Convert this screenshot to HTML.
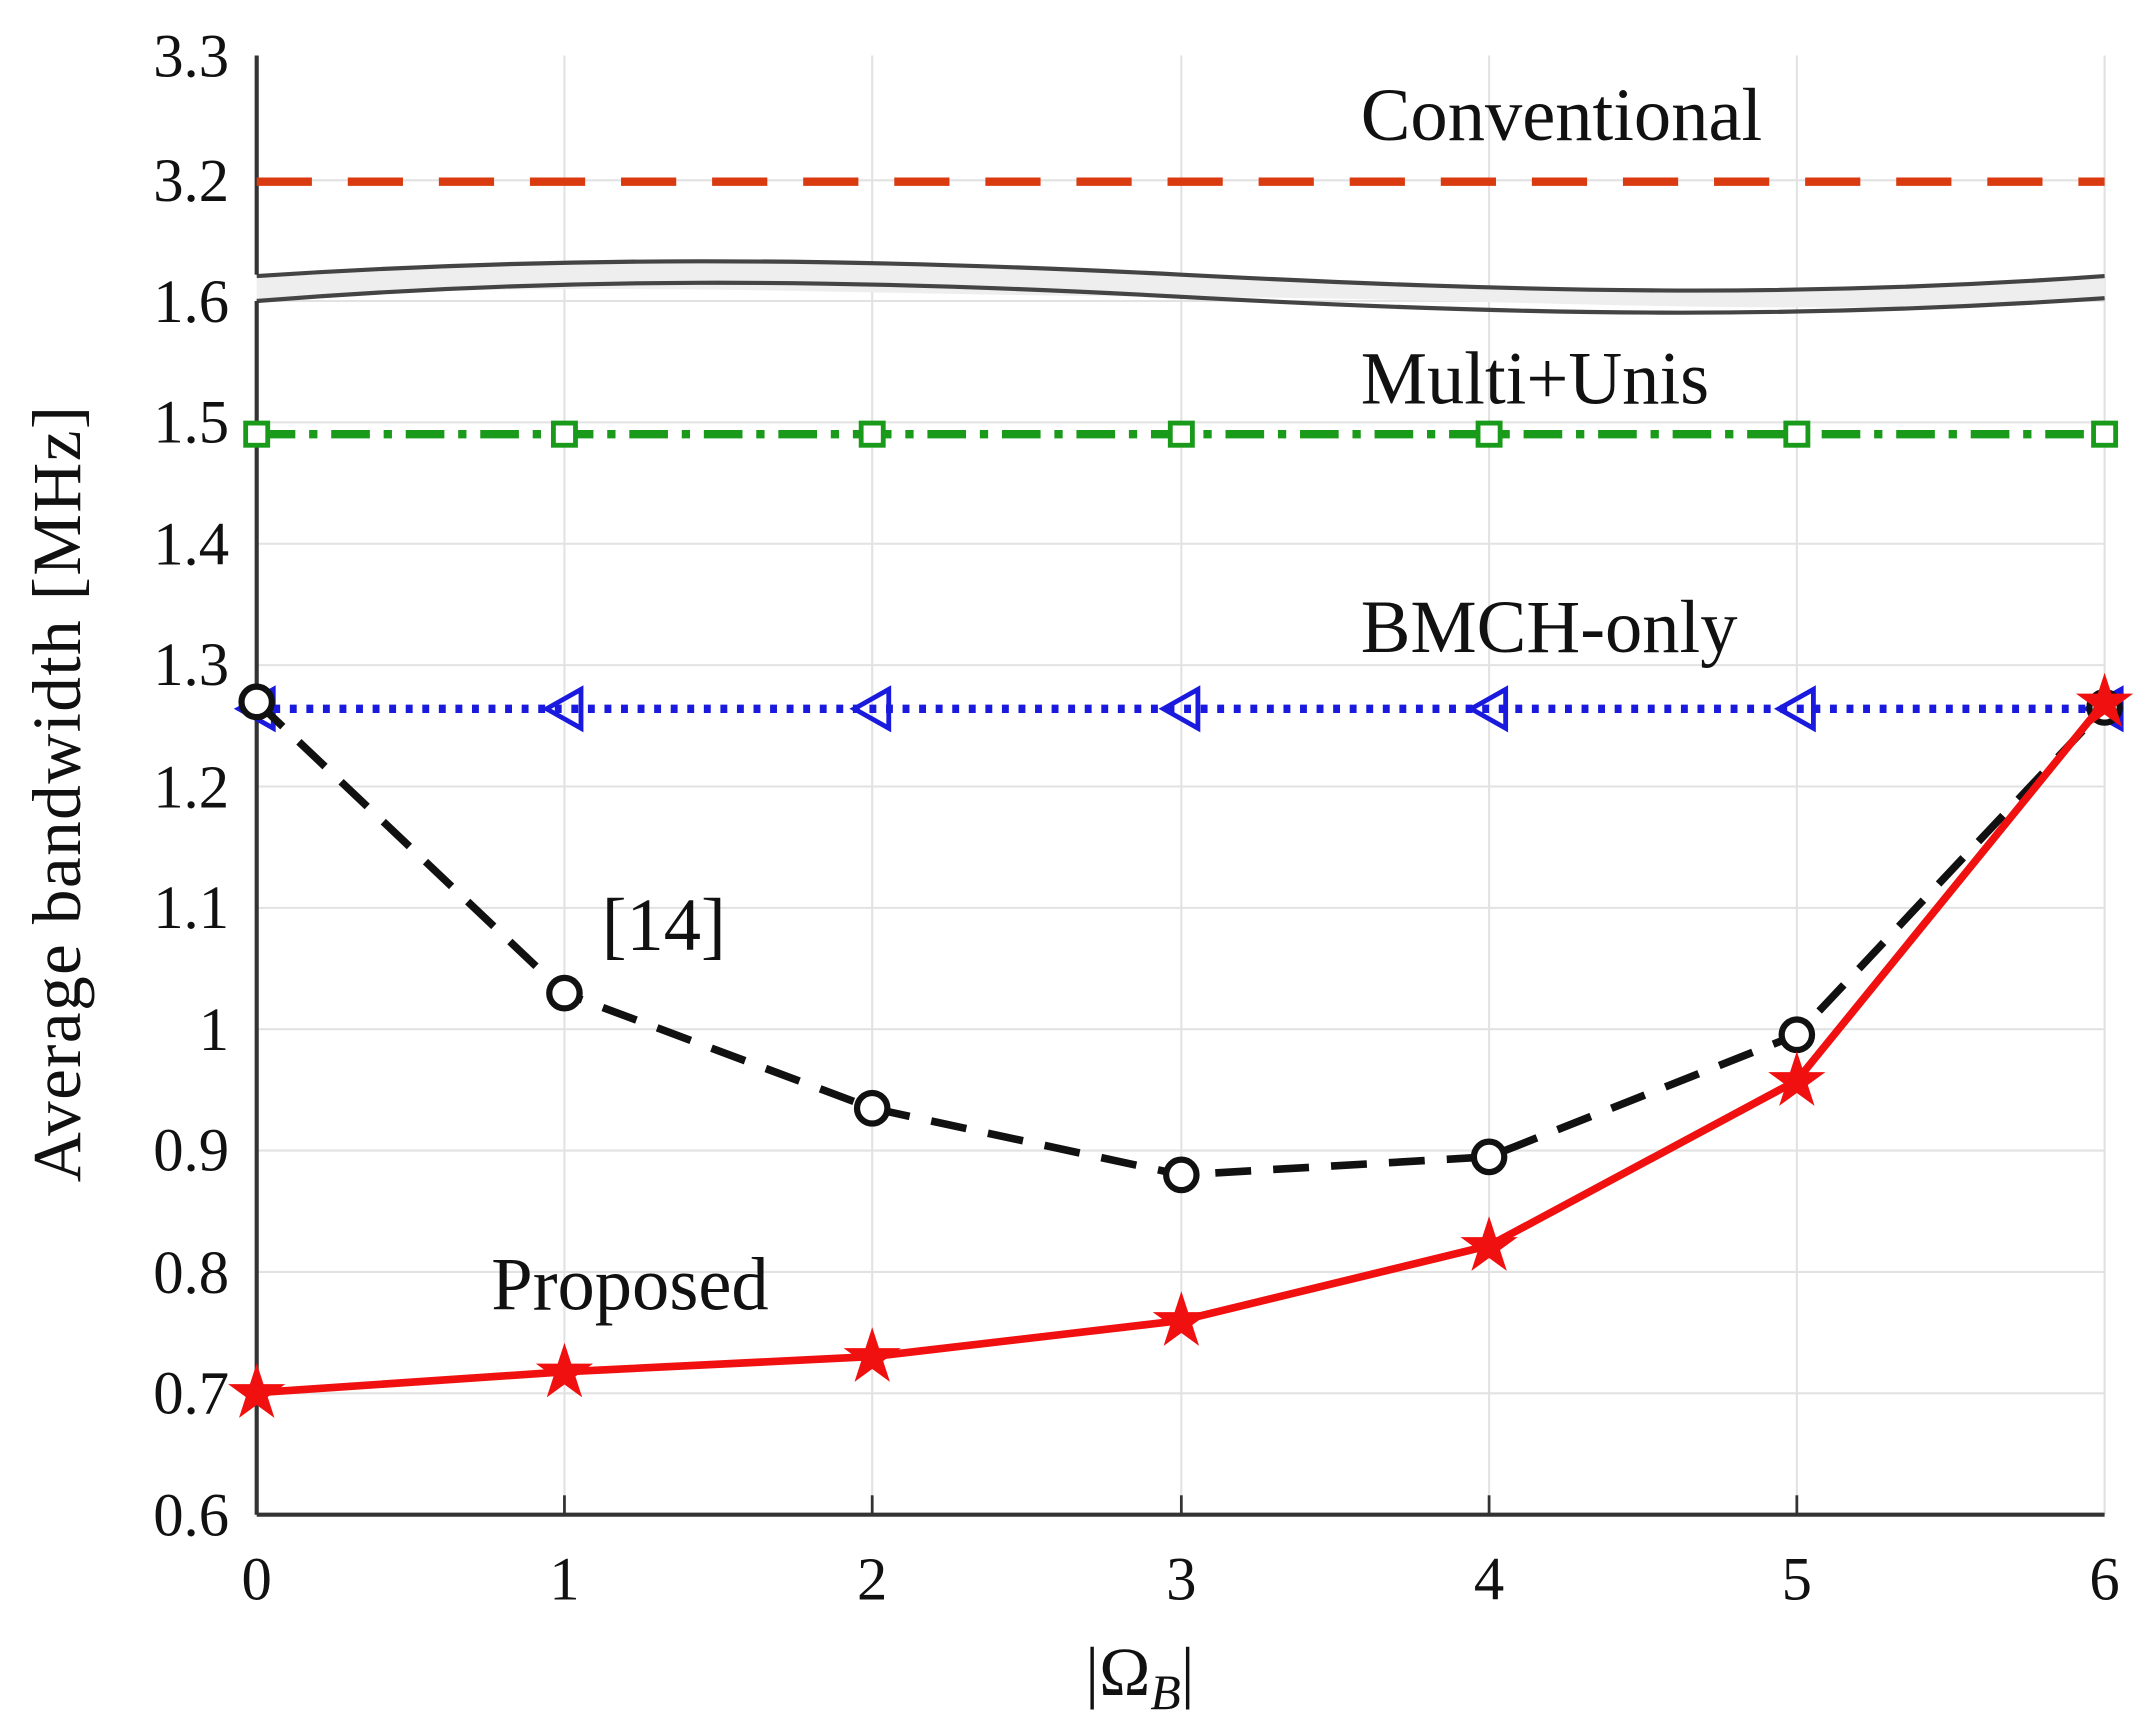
<!DOCTYPE html>
<html><head><meta charset="utf-8"><style>
html,body{margin:0;padding:0;background:#fff;}
svg{display:block;}
text{font-family:"Liberation Serif",serif;fill:#111;}
</style></head><body>
<svg width="2146" height="1720" viewBox="0 0 1555 1240" preserveAspectRatio="none" xmlns="http://www.w3.org/2000/svg">
<g stroke="#e2e2e2" stroke-width="1.5">
<line x1="409" y1="40" x2="409" y2="1092"/><line x1="632" y1="40" x2="632" y2="1092"/>
<line x1="856" y1="40" x2="856" y2="1092"/><line x1="1079" y1="40" x2="1079" y2="1092"/>
<line x1="1302" y1="40" x2="1302" y2="1092"/><line x1="1525" y1="40" x2="1525" y2="1092"/>
<line x1="186" y1="130" x2="1525" y2="130"/>
<line x1="186" y1="217" x2="1525" y2="217"/><line x1="186" y1="304.5" x2="1525" y2="304.5"/>
<line x1="186" y1="392" x2="1525" y2="392"/><line x1="186" y1="479.5" x2="1525" y2="479.5"/>
<line x1="186" y1="567" x2="1525" y2="567"/><line x1="186" y1="654.5" x2="1525" y2="654.5"/>
<line x1="186" y1="742" x2="1525" y2="742"/><line x1="186" y1="829.5" x2="1525" y2="829.5"/>
<line x1="186" y1="917" x2="1525" y2="917"/><line x1="186" y1="1004.5" x2="1525" y2="1004.5"/>
</g>
<path d="M186 199 C400 185,600 185,856 198 S1300 215,1525 199 L1525 215 C1300 230,1100 215,856 214 S400 200,186 217 Z" fill="#eeeeee" stroke="none"/>
<path d="M186 199 C400 185,600 185,856 198 S1300 215,1525 199" fill="none" stroke="#444" stroke-width="3"/>
<path d="M186 217 C400 200,600 200,856 214 S1300 230,1525 215" fill="none" stroke="#444" stroke-width="3"/>
<g stroke="#333" stroke-width="3" fill="none">
<line x1="186" y1="40" x2="186" y2="198"/><line x1="186" y1="217" x2="186" y2="1092"/>
<line x1="186" y1="1092" x2="1525" y2="1092"/>
</g>
<g stroke="#333" stroke-width="2">
<line x1="409" y1="1092" x2="409" y2="1078"/><line x1="632" y1="1092" x2="632" y2="1078"/>
<line x1="856" y1="1092" x2="856" y2="1078"/><line x1="1079" y1="1092" x2="1079" y2="1078"/>
<line x1="1302" y1="1092" x2="1302" y2="1078"/>
</g>
<g font-size="44" text-anchor="end">
<text x="166" y="55">3.3</text><text x="166" y="145">3.2</text>
<text x="166" y="232">1.6</text><text x="166" y="319">1.5</text>
<text x="166" y="407">1.4</text><text x="166" y="494">1.3</text>
<text x="166" y="582">1.2</text><text x="166" y="669">1.1</text>
<text x="166" y="757">1</text><text x="166" y="844">0.9</text>
<text x="166" y="932">0.8</text><text x="166" y="1019">0.7</text>
<text x="166" y="1107">0.6</text>
</g>
<g font-size="44" text-anchor="middle">
<text x="186" y="1153">0</text><text x="409" y="1153">1</text><text x="632" y="1153">2</text>
<text x="856" y="1153">3</text><text x="1079" y="1153">4</text><text x="1302" y="1153">5</text><text x="1525" y="1153">6</text>
</g>
<text x="826" y="1222" font-size="50" text-anchor="middle">|Ω<tspan font-style="italic" font-size="36" dy="10">B</tspan><tspan dy="-10">|</tspan></text>
<text transform="translate(58,572) rotate(-90)" font-size="50" text-anchor="middle" letter-spacing="1">Average  bandwidth  [MHz]</text>
<line x1="186" y1="131" x2="1525" y2="131" stroke="#d93a10" stroke-width="6" stroke-dasharray="40,26"/>
<line x1="186" y1="313" x2="1525" y2="313" stroke="#1a9a1a" stroke-width="6" stroke-dasharray="28,10,6,10"/>
<g fill="#fff" stroke="#1a9a1a" stroke-width="3.5">
<rect x="178" y="305" width="16" height="16"/><rect x="401" y="305" width="16" height="16"/><rect x="624" y="305" width="16" height="16"/><rect x="848" y="305" width="16" height="16"/><rect x="1071" y="305" width="16" height="16"/><rect x="1294" y="305" width="16" height="16"/><rect x="1517" y="305" width="16" height="16"/>
</g>
<line x1="186" y1="511" x2="1525" y2="511" stroke="#1a1adf" stroke-width="6" stroke-dasharray="5,7"/>
<g fill="none" stroke="#1a1adf" stroke-width="3.5">
<path d="M173 511 L198 497 L198 525 Z"/><path d="M396 511 L421 497 L421 525 Z"/><path d="M619 511 L644 497 L644 525 Z"/><path d="M843 511 L868 497 L868 525 Z"/><path d="M1066 511 L1091 497 L1091 525 Z"/><path d="M1289 511 L1314 497 L1314 525 Z"/><path d="M1512 511 L1537 497 L1537 525 Z"/>
</g>
<polyline points="186,506 409,716 632,799 856,847 1079,834 1302,746 1525,510" fill="none" stroke="#111" stroke-width="5.5" stroke-dasharray="26,16"/>
<g fill="#fff" stroke="#111" stroke-width="4.5">
<circle cx="186" cy="506" r="11"/><circle cx="409" cy="716" r="11"/><circle cx="632" cy="799" r="11"/><circle cx="856" cy="847" r="11"/><circle cx="1079" cy="834" r="11"/><circle cx="1302" cy="746" r="11"/><circle cx="1525" cy="510" r="11"/>
</g>
<polyline points="186,1004 409,989 632,978 856,952 1079,898 1302,779 1525,506" fill="none" stroke="#f01010" stroke-width="5.5"/>
<g font-size="54" text-anchor="middle">
<text x="186" y="1022" style="fill:#f01010">★</text><text x="409" y="1007" style="fill:#f01010">★</text><text x="632" y="996" style="fill:#f01010">★</text><text x="856" y="970" style="fill:#f01010">★</text><text x="1079" y="916" style="fill:#f01010">★</text><text x="1302" y="797" style="fill:#f01010">★</text><text x="1525" y="524" style="fill:#f01010">★</text>
</g>
<g font-size="54">
<text x="986" y="101">Conventional</text>
<text x="986" y="291">Multi+Unis</text>
<text x="986" y="470">BMCH-only</text>
<text x="436" y="685">[14]</text>
<text x="356" y="944">Proposed</text>
</g>
</svg>
</body></html>
